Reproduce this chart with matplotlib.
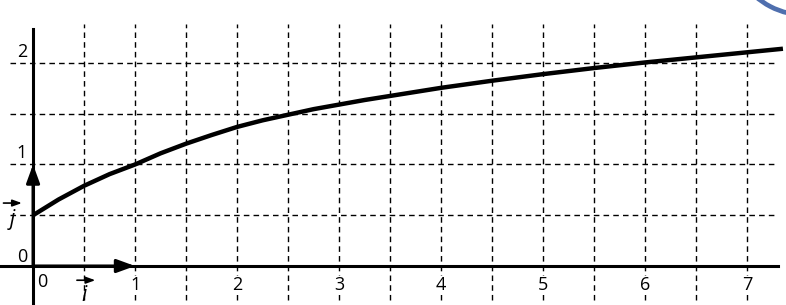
import numpy as np
import matplotlib.pyplot as plt
from matplotlib.patches import Arc

# curve values
curve_x = [0, 0.25, 0.5, 0.75, 1, 1.25, 1.5, 1.75, 2, 2.25, 2.5, 2.75, 3,
           3.25, 3.5, 3.75, 4, 4.5, 5, 5.5, 6, 6.5, 7, 7.35]
curve_y = [0.5, 0.655, 0.79, 0.905, 1.0, 1.11, 1.205, 1.29, 1.37, 1.435,
           1.49, 1.545, 1.59, 1.635, 1.675, 1.715, 1.755, 1.825, 1.89,
           1.95, 2.005, 2.055, 2.105, 2.14]

x_ticks = [1, 2, 3, 4, 5, 6, 7]
y_ticks = [1, 2]
grid_x = [0.5, 1, 1.5, 2, 2.5, 3, 3.5, 4, 4.5, 5, 5.5, 6, 6.5, 7]
grid_y = [0.5, 1, 1.5, 2]


def small_vector(ax, x0, x1, y):
    ax.annotate('', xy=(x1, y), xytext=(x0, y),
                arrowprops=dict(arrowstyle='-|>,head_length=0.55,head_width=0.2',
                                color='black', lw=1.2, shrinkA=0, shrinkB=0),
                zorder=6)


def main() -> None:
    fig = plt.figure(figsize=(7.86, 3.05), dpi=100)
    ax = fig.add_axes([0, 0, 1, 1])
    ax.set_xlim(-0.324, 7.38)
    ax.set_ylim(-0.384, 2.62)
    ax.axis('off')

    # dashed grid
    for gx in grid_x:
        ax.plot([gx, gx], [-0.33, 2.38], color='black', lw=1.0,
                linestyle=(0, (4, 3)), zorder=1)
    for gy in grid_y:
        ax.plot([-0.23, 7.28], [gy, gy], color='black', lw=1.0,
                linestyle=(0, (4, 3)), zorder=1)

    # axes
    ax.plot([-0.33, 7.3], [0, 0], color='black', lw=2.2, zorder=2)
    ax.plot([0, 0], [-0.36, 2.33], color='black', lw=2.2, zorder=2)

    # unit vectors i and j
    head = '-|>,head_length=1.1,head_width=0.4'
    ax.annotate('', xy=(1, 0), xytext=(0, 0),
                arrowprops=dict(arrowstyle=head, color='black', lw=2.2,
                                shrinkA=0, shrinkB=0), zorder=3)
    ax.annotate('', xy=(0, 1), xytext=(0, 0),
                arrowprops=dict(arrowstyle=head, color='black', lw=2.2,
                                shrinkA=0, shrinkB=0), zorder=3)

    # function curve
    ax.plot(curve_x, curve_y, color='black', lw=3.2, zorder=4,
            solid_capstyle='butt', solid_joinstyle='round')

    box = dict(facecolor='white', edgecolor='none', pad=0.5)
    font = dict(fontsize=13, family='Open Sans', color='black', zorder=5)
    for t in x_ticks:
        ax.text(t, -0.19, str(t), ha='center', va='center', bbox=box, **font)
    for t in y_ticks:
        ax.text(-0.11, t + 0.11, str(t), ha='center', va='center', **font)
    ax.text(-0.11, 0.09, '0', ha='center', va='center', **font)
    ax.text(0.09, -0.16, '0', ha='center', va='center', **font)

    ax.text(0.5, -0.29, 'i', ha='center', va='center', fontstyle='italic',
            **{**font, 'fontsize': 15})
    small_vector(ax, 0.43, 0.61, -0.14)
    ax.text(-0.2, 0.455, 'j', ha='center', va='center', fontstyle='italic',
            **{**font, 'fontsize': 15})
    small_vector(ax, -0.29, -0.11, 0.62)

    # bit of blue ring from the scan in the top right corner
    ring = Arc((8.05, 3.65), 1.5, 1.5, theta1=185, theta2=300,
               color='#4f6fae', lw=3.4, transform=fig.dpi_scale_trans,
               zorder=5)
    ax.add_patch(ring)

    fig.savefig('out.png', dpi=100)


if __name__ == '__main__':
    main()
